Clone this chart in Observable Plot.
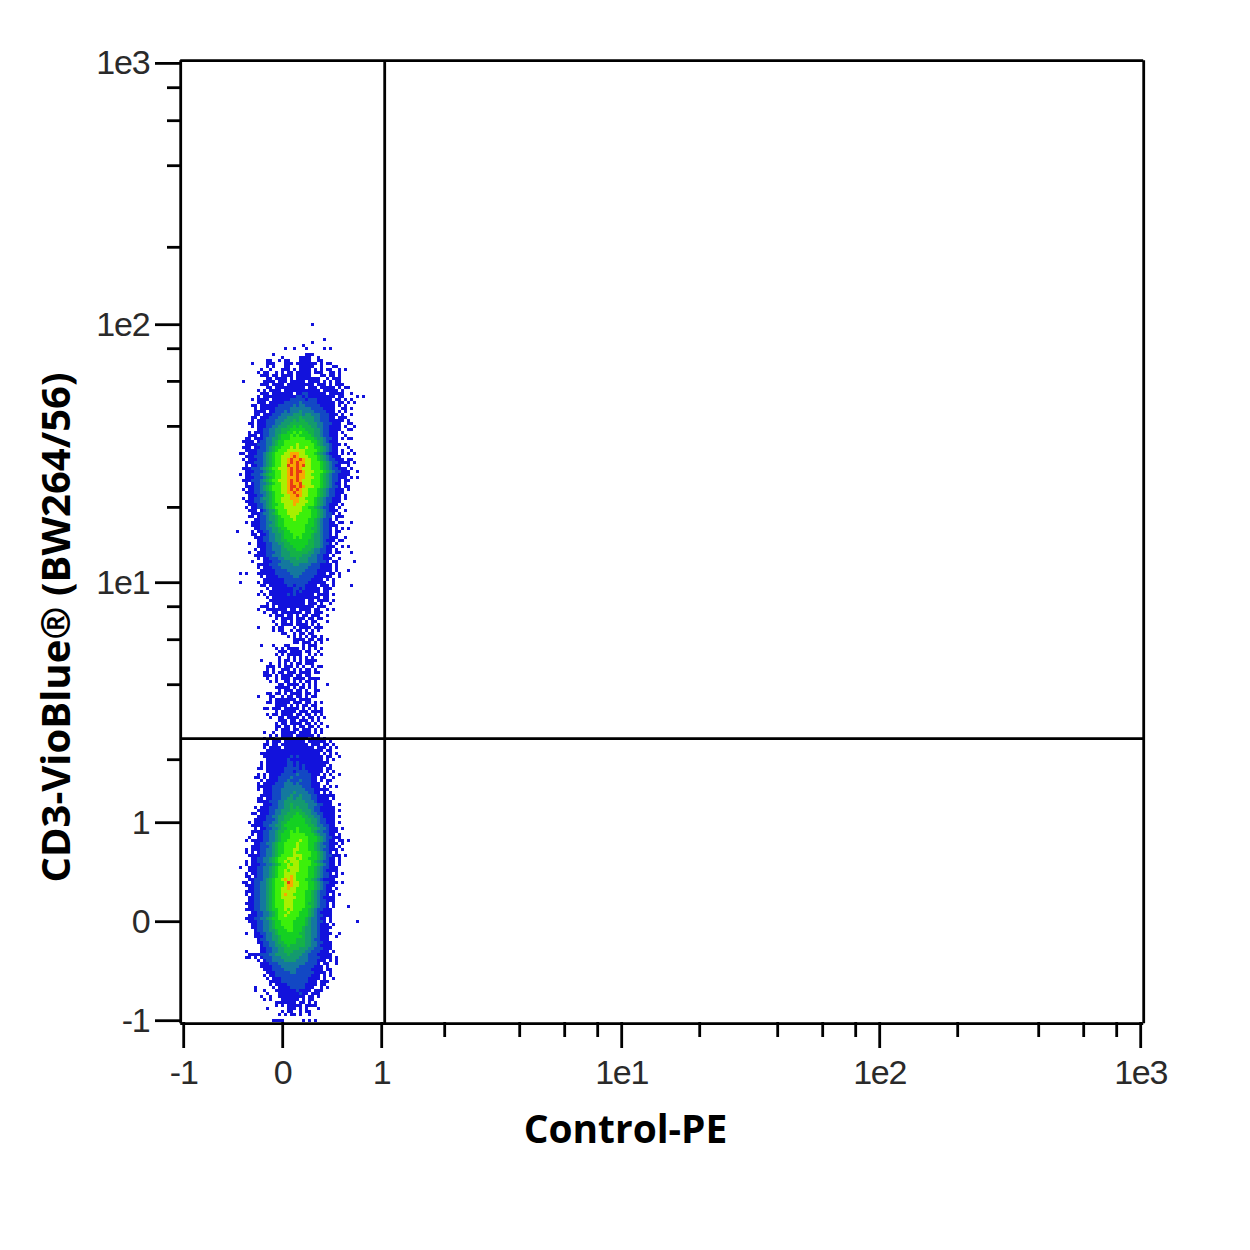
<!DOCTYPE html>
<html>
<head>
<meta charset="utf-8">
<script src="https://cdn.jsdelivr.net/npm/d3@7"></script>
<script src="https://cdn.jsdelivr.net/npm/@observablehq/plot@0.6"></script>
<style>html,body{margin:0;background:#fff}svg{display:block}
[aria-label$="tick label"]{letter-spacing:-1.2px}</style>
</head>
<body>
<div id="chart"></div>
<script>
// Acquisition channels: the instrument plots on a 320 x 320 channel grid.
const channels = 320;
const xLabel = "Control-PE";
const yLabel = "CD3-VioBlue® (BW264/56)";
const tickLabels = ["-1", "0", "1", "1e1", "1e2", "1e3"];
const xMajor = [0.4, 33.4, 66.4, 146.4, 232.4, 319.4];
const xMinor = [87.4, 112.4, 127.4, 138.4, 172.4, 198.4, 213.4, 224.4, 258.4, 285.4, 300.4, 311.4];
const yMajor = [0.6, 33.6, 66.6, 146.6, 232.6, 319.7];
const yMinor = [87.6, 112.6, 127.6, 138.6, 171.7, 198.7, 213.7, 224.6, 258.4, 285.6, 300.6, 311.6];
const xGate = 67.4;
const yGate = 94.6;
const levelColors = ["#1212dc", "#1248c4", "#14789e", "#149a6e", "#14b248", "#14d022", "#3cf00a", "#a8f000", "#f8a800", "#e83c14"];
const levelKeys = ["1", "2", "3", "4", "5", "6", "7", "8", "9", "a"];
const firstColumn = 17;

// Density class of each channel, read row by row from the top of the picture.
const upperPopulation = [
"..........................1",
"",
"",
"",
"",
"..............................1",
"..........................1",
".......................1",
".................1..1...1.....1.1",
"",
".............1..........111",
"................1.....1111..1",
"...........11..1.11...1111..11",
"......1....111...111.1111111.1.11",
"...........1.1...11...11111..1...11",
".........1..1...111.1.1111.1.1.11..1.1",
"........1.11..1.1.11.11111.111..11.1",
".........111.11.1111.11111...11.11.1",
"...........11.1111.1.11111111..1.111",
"...1......1111.111.11111.1111.1.1.11",
".........111.1111.111111111.111.1.111",
"...........11.1111111111.111.11111.1.11",
"........1.1.1111.111111111111.11111.1",
".........111.1111111.1122111111.11111..1",
"........1.111111111112212111111111.11....1.1",
"......1.1111.11111122222122211111.11.1.1",
"........111.1111122222322222111111.11.1.1",
"......11.1111112222232332222211111.1.1",
".......1.1111122222333333322221111..11.1",
".......1111.1122232333433332222111.1.1",
".......11.1112223333444344333222111.1..1",
"......11.1112223334444544443322211.111",
"......1.11122233344454554443322211111.1",
".....11.1112223344455555544433222111..11",
"......1.1112233444556565554433221111.1..1",
"........1122334455566666555443221111..11",
".....1.1112233445566767665544322111.1",
".....111.12233456667676666544322111..1",
"....11.1112334456667777766654432211.1.11",
"...1111.122334566777777777665432111",
"....11112223345667777877777654332111.1",
"...111.1122345667778787787766543211...1",
"....1111222345677788888877776543211.1..1",
"..11.111223456777889998877765432111.1.1.1",
"....1112223456778889a988877765432111",
"...1.11122345677889a99a98877654322111.11",
"....111222345677889a9a99887776543221111.1",
"....1.112234567788a99a9a887776543211..1",
"...1112223456778889a9a9888777654322111.1",
"....111222345677889a9aa9888777654322111..1",
"..1.112223456677889a9a99887776543221111",
"....11122234567788999a9988877654322111.1.1",
"...1112223456778889a9a98887776543221.11",
"....1.1223345677889a99a8887776543211.1",
"....111223456777889aa9a9888776543221.11",
"...1.11223456777889a9a988777654322111.1",
"....1112233456778899a9988777654322111",
".....1112234567778899a98877765432211.1",
"...1.1122344567788899988777654322111.1",
"....11122334567788889988877654322111",
".....111223456677888988877765432111.1",
"....1.1122345677788888877665432211.1",
".....111.12344677788888777665432111..1",
"......1112334567778888777766543221.1",
".....11.1223445677788777776654322.111",
".......11223445667778777766543221.1",
"....1.1112233456677777777665432211.11..1",
"......11122344566777777766654322111",
".......11223344566777777665543221.1.1.1",
".1....1.1122344556677777666543221.11",
"......11.112334456667776665443221.1",
".......1112233445666767666544322111..1",
"........11223344556666666554432111.11",
".....1..1112233445566666655443221.1",
"........11122333455566665554432111..1.1",
".......1.112233344555665554332211.1",
".....1..1112223344455555544332211.11...1",
".......1111223334445555444332211.1",
"........1.11222334444544433322111..1",
"......1...1112223334444443332221.11.....1",
"........1111222333334433332221111.1",
"........1.11122233333333322221111.1",
".........111112222333333222211111.1...1",
"..1.1...11111122222333322222111.11.1.",
".........1.1111222223322222111111..1",
"..........11111112222222221111.1.1",
"..1.....1.111111122222222111111..1",
".........11.1111112212221111.111.1.....1",
"...........1.1111111221211111.111",
".........1..11111111212111111.11",
"........1.1.111111212111111.1111.1",
"...........1.1111111111111111.11",
"............111111111111.11.1111.1",
"...........1.11111111111.111.1..1",
".........111.1.111111111111.111",
"........1..1111111.11.1111.11..1.1",
"..........1..11.1111111.11.111",
"............1.111.11.1.11.111..1",
"..............1.1111.111.11.11",
];

const sparseBridge = [
".............1..11.1.11.1.11...1",
"..............1.1111.1111.1.1",
"........1....1.11...1.1111.111",
".............1.11..1.11.1.1.1",
"................11..1.11.11.",
"..................1.1.1.1.11.1",
"....................1111.11.11.1",
"....................11.111.1.1",
".........1...1...11....1.111.",
"..............1.1.1111.1.1.1.1",
"...............111.1111.11..1",
"..............1.1.11111..1.1.1",
"...............1..1.1.1.1.1",
".........1.....1.11.1.1.1111",
"............1..1.1.1.11.111..",
"...........111.1.111.1.1..1.11",
"...........1.1..111.1.1.11.1",
"..........11.1.11.111.1111.11",
"..........111.1.1111.11.11.",
"...........1..1.111.1111.1111",
"............1.1..11.1.1.11.1",
"...............11.1111.1.1.1...1",
"..............11111.1.11.1.1",
"...............1.111.11.1..11",
"...........11.11.1.1111.11.1",
"........1...11..1.11.11.1.11",
"............1.1111111.1111",
"...........11.11111.111.11.1.1",
"..............1111.1.1.11.11",
"..........11.111.11111.1.1.1.1",
"..............1.11111.111.1111",
"...........1.11.1111.11.11.1.1",
"............1..11.1111.1.11.1.1",
"...............111.11.111.1.1..",
"..............1.11.1111.11.1.1",
"..............11.11.1.11.11.1..1",
"..............1.111.11.111.1.1",
"..........1..1..11111.1111.1.1",
"............1.1.1111.111111.1",
"..........1.11..111111111.111.1",
];

const lowerPopulation = [
"...........1.111.1111111.111111.1",
"..........11.11.111111111.111.11.1",
"..........1.1111.1111111111.111.1.1",
"...........1111111111111111111.11",
".........11111111111111111111.1.1.1",
"..........11111111121211111111.11..1",
"...........1111111211111111111.1.1",
".........1.111111122121111111111",
".........1.11111112212121111111.1",
"........11.1111112222212111111.11",
"...........1111112221222211111.1.1",
"........1.1.11112222232222111.1.1..1",
".......11.1.1112222322222211.11..1",
".........1.11112223222322211.1.11",
"........1.1111222333232222111..1",
"........111112222333333222111.1.1.1",
"........1.1112223333333322211111",
"..........1112223333433332211.1.1",
".........1111222333433433322111111",
"........11.112223344344333221111.1",
"........1111222334444444333211111",
"..........11122334454444433322111..1",
".......1.1112223344545444332211111",
"........11112233444555544432211111.1",
"......11.1112233445556554433221111",
"........11122334455566655443321111.1",
".......111122234455666665544322111",
".....1.111222334556666665544322111.1",
"......1111223344566666666554332211",
".......1.11223345566676666554332111.1",
"......11112233455667676666543322111",
"......1.11223345666777776665433211.1",
".....1..1122334566677777766654322111",
"....1.1111223345667777877666543211.11.1",
".......1122334566777787776654322111.1",
"......1112223456677778777665433211.1",
"....1.11122334566777887776654322111.1",
"....1.1.1223345667778777776654321.1",
".....1111223345677778887776654322111.1",
"......1122334567778887877666543211.1",
"....1.1122334567787888777765432211.1",
"....1.1112233456778788777766543211.1",
"..1..111223345677788887776654322111",
".....111223345677878887776654321111",
"....1.112233456778888777766543221.1.1",
"....11.1223345677889877776654322111",
".....11222345677898987776654321111",
"...11.122334567778a9887776654322111.1",
"....111223345677789988777665432111",
".....1122334567788988777766543211.1",
"....111223345677888887776654322111",
"....1.12233456778988777766543221.1.1",
".....11223345677888887776654321111",
".....11223345677788877776654322111",
"....1112233456777888777765543221.1",
".....112233456777888777766543221.1....1",
"....11122334566778787776654322111",
"......112233456777877766654321111",
".....1112233456778777766654322111",
"....111223345667777776665433211.1",
".....11122334566777766665433221.1........1",
"......11223345667777666654332111.1",
"......112233456667776665443321111",
".......1223344566677666544332111",
"....1..11223345666666655443321111..1",
".......1112334456666666544332111..1",
"........122334456666655544322111",
"........1122334556666555443322111",
".........122334455655555443321111",
".........112233445555544433222111",
"....1....11223344555444433222111.1",
".....1111222334444544443322211111",
"....11.1.122233344444433322221111.1",
"........1.122333344443333222111.1.1",
".........11122233333333322221.11..1",
".........111122233333322222111.1",
"..........11122223333222221111.11",
"...........11122222332222221111.1.",
"..........1.11222222222222111.1.1",
"...........1.1112222222221111.1..1",
"............1111222222222111.111",
"............1.11112222221111.11",
".......1.....1.111122222111..1.1",
".......1..1...111111121111.111",
"...........1...1111111211.111",
".........1..1..111111111.11.1",
"..........1.1...111111.1.11",
"..............1111111.11.1.1",
"..............1.1.11111.1111",
"...........1......111.1.1...1",
"................1.11..1.11",
"...............1.1.11.1..1",
"...........................",
".............1111......1.1.1",
];

const rowSets = [...upperPopulation, ...sparseBridge, ...lowerPopulation];
const cells = rowSets.flatMap((text, i) =>
  Array.from(text).flatMap((ch, j) =>
    ch === "." ? [] : [{column: firstColumn + j, row: rowSets.length - 1 - i, level: ch}]));

const chart = Plot.plot({
  width: 1250,
  height: 1250,
  marginLeft: 182,
  marginRight: 108,
  marginTop: 62,
  marginBottom: 228,
  style: {background: "#fff", fontFamily: "'Liberation Sans', Arial, sans-serif"},
  x: {type: "linear", domain: [0, channels]},
  y: {type: "linear", domain: [0, channels]},
  color: {type: "ordinal", domain: levelKeys, range: levelColors},
  marks: [
    Plot.rect(cells, {
      x1: "column", x2: d => d.column + 1,
      y1: "row", y2: d => d.row + 1,
      fill: "level", shapeRendering: "crispEdges"
    }),
    Plot.ruleX([-0.6, 320.4], {y1: -0.4, y2: 320.6, stroke: "#000", strokeWidth: 2.8}),
    Plot.ruleY([-0.4, 320.6], {x1: -0.6, x2: 320.4, stroke: "#000", strokeWidth: 2.8}),
    Plot.ruleX([xGate], {y1: -0.4, y2: 320.6, stroke: "#000", strokeWidth: 2.8}),
    Plot.ruleY([yGate], {x1: -0.6, x2: 320.4, stroke: "#000", strokeWidth: 2.8}),
    Plot.axisX(xMajor, {
      anchor: "bottom", tickSize: 26, tickPadding: 11, strokeWidth: 2.8, stroke: "#000",
      tickFormat: d => tickLabels[xMajor.indexOf(d)], fontSize: 34, fill: "#2a2a2a", label: null
    }),
    Plot.axisX(xMinor, {anchor: "bottom", tickSize: 15, strokeWidth: 2.8, stroke: "#000", tickFormat: () => "", label: null}),
    Plot.axisY(yMajor, {
      anchor: "left", tickSize: 27, tickPadding: 6, strokeWidth: 2.8, stroke: "#000",
      tickFormat: d => tickLabels[yMajor.indexOf(d)], fontSize: 34, fill: "#2a2a2a", label: null
    }),
    Plot.axisY(yMinor, {anchor: "left", tickSize: 15, strokeWidth: 2.8, stroke: "#000", tickFormat: () => "", label: null}),
    Plot.text([xLabel], {
      frameAnchor: "bottom", dx: -37, dy: 108, text: d => d, lineAnchor: "middle",
      fontFamily: "'Open Sans', sans-serif", fontWeight: 700, fontSize: 38.9, fill: "#000"
    }),
    Plot.text([yLabel], {
      frameAnchor: "left", dx: -125, dy: 85, text: d => d, rotate: -90, lineAnchor: "middle", textAnchor: "middle",
      fontFamily: "'Open Sans', sans-serif", fontWeight: 700, fontSize: 40, fill: "#000"
    })
  ]
});
document.getElementById("chart").append(chart);
</script>
</body>
</html>
